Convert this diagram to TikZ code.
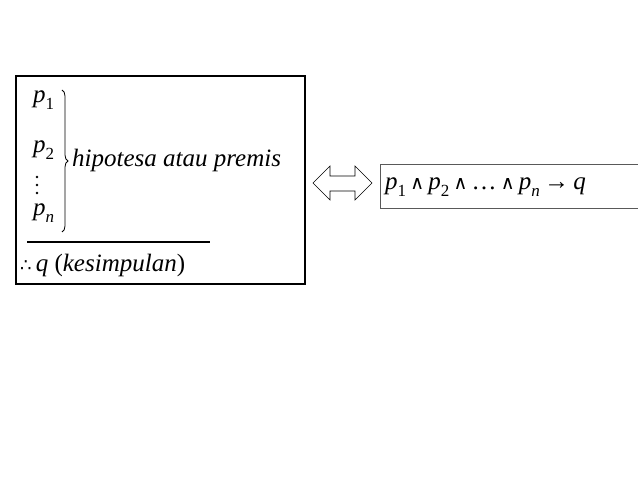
\documentclass[tikz,border=0pt]{standalone}
\usepackage{fontspec}
\setmainfont{Liberation Serif}
\newfontfamily\symf{DejaVu Sans}
\usetikzlibrary{decorations.pathreplacing}
\newcommand{\pp}[1]{\textit{p}\raisebox{-0.25em}{\fontsize{17}{17}\selectfont #1}}
\newcommand{\wedgesym}{{\symf\fontsize{19}{19}\selectfont ∧}}
\tikzset{txt/.style={font=\fontsize{25}{27}\selectfont, inner sep=0pt, anchor=west},
  dotm/.style={fill=black, inner sep=0pt, minimum size=2.6pt, circle}}
\begin{document}
\begin{tikzpicture}[x=1pt,y=-1pt]
\useasboundingbox (0,0) rectangle (638,478);
\draw[line width=1.6pt] (16,76) rectangle (305,284);
\node[txt] (p1) at (33,100) {\pp{1}};
\node[txt] (p2) at (33,150) {\pp{2}};
\node[dotm] (d1) at (37,177) {};
\node[dotm] (d2) at (37,185) {};
\node[dotm] (d3) at (37,193) {};
\node[txt] (pn) at (33,213) {\pp{\textit{n}}};
\draw[decorate,decoration={brace,amplitude=6pt},line width=0.8pt] (62,90) -- (62,232);
\node[txt] (hyp) at (72,160) {\textit{hipotesa atau premis}};
\draw[line width=1.4pt] (27,242) -- (210,242);
\node[txt] (conc) at (20,265) {{\symf\fontsize{18}{18}\selectfont ∴}\,\textit{q} (\textit{kesimpulan})};
\draw[line width=0.6pt] (313,183) -- (330,166) -- (330,176) -- (355,176) -- (355,166) -- (372,183) -- (355,200) -- (355,191) -- (330,191) -- (330,200) -- cycle;
\draw[gray!70!black,line width=0.6pt] (638,164) -- (380,164) -- (380,208) -- (638,208);
\node[txt] (eq) at (385,187) {\pp{1}\,\wedgesym\,\pp{2}\,\wedgesym\,\dots\,\wedgesym\,\pp{\textit{n}}\,→\,\textit{q}};
\end{tikzpicture}
\end{document}
